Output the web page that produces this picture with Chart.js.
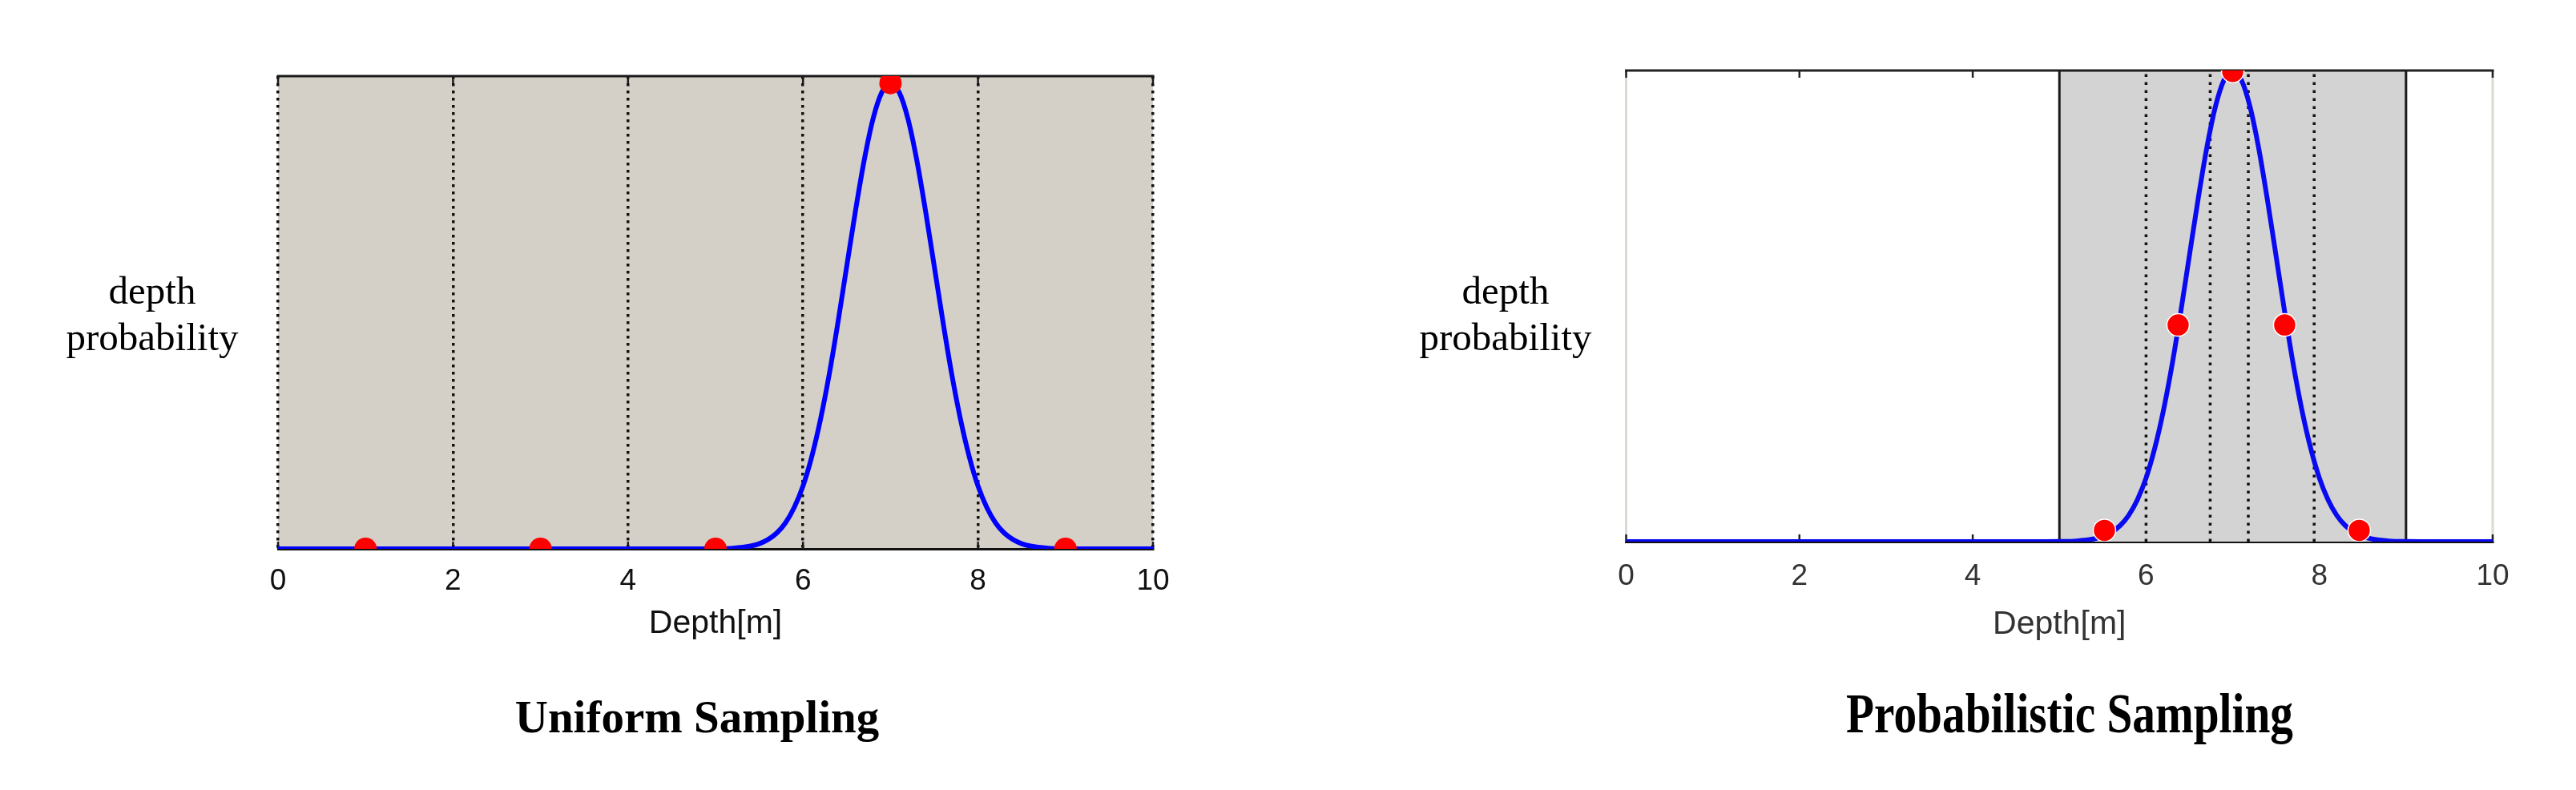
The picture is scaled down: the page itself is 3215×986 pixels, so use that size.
<!DOCTYPE html>
<html><head><meta charset="utf-8">
<script src="https://cdn.jsdelivr.net/npm/chart.js@4.4.1/dist/chart.umd.min.js"></script>
<style>
html,body{margin:0;padding:0;background:#fff;}
body{width:3215px;height:986px;position:relative;overflow:hidden;}
.wrap{position:absolute;top:0;height:986px;}
.ylab{position:absolute;font-family:"Liberation Serif","Times New Roman",serif;font-size:49px;line-height:58px;text-align:center;color:#000;width:300px;}
.cap{position:absolute;font-family:"Liberation Serif","Times New Roman",serif;font-weight:bold;color:#000;white-space:nowrap;transform-origin:0 0;}
</style></head>
<body>
<div class="wrap" style="left:0;width:1600px"><canvas id="c1" width="1600" height="986"></canvas></div>
<div class="wrap" style="left:1600px;width:1615px"><canvas id="c2" width="1615" height="986"></canvas></div>
<div class="ylab" style="left:40px;top:334px">depth<br>probability</div>
<div class="ylab" style="left:1729px;top:334px">depth<br>probability</div>
<div class="cap" id="cap1" style="font-size:57px;line-height:57px;top:866px">Uniform Sampling</div>
<div class="cap" id="cap2" style="font-size:70px;line-height:70px;top:856px">Probabilistic Sampling</div>
<script>
// ---- data ----
const xTicks = [0, 2, 4, 6, 8, 10];
const depthGrid = [0, 4.4, 4.8, 5.0, 5.2, 5.4, 5.5, 5.6, 5.7, 5.8, 5.9, 6.0, 6.1, 6.2, 6.3, 6.4, 6.5, 6.6, 6.7, 6.8, 6.9, 7.0,
  7.1, 7.2, 7.3, 7.4, 7.5, 7.6, 7.7, 7.8, 7.9, 8.0, 8.1, 8.2, 8.3, 8.4, 8.5, 8.6, 8.8, 9.0, 9.2, 9.6, 10];
const probability = [0, 0, 0.0001, 0.0003, 0.0015, 0.006, 0.011, 0.02, 0.034, 0.056, 0.089, 0.135, 0.198, 0.278, 0.375, 0.487, 0.607, 0.726, 0.835, 0.923, 0.98, 1.0,
  0.98, 0.923, 0.835, 0.726, 0.607, 0.487, 0.375, 0.278, 0.198, 0.135, 0.089, 0.056, 0.034, 0.02, 0.011, 0.006, 0.0015, 0.0003, 0.0001, 0, 0];
const uniformX = [1, 3, 5, 7, 9];
const uniformY = [0, 0, 0, 1, 0];
const probX = [5.52, 6.37, 7.0, 7.6, 8.46];
const probY = [0.024, 0.46, 0.998, 0.46, 0.024];
const probBounds = [6.0, 6.74, 7.18, 7.94];
const boxRange = [5, 9];
const axisTitle = 'Depth[m]';

const pts = (xs, ys) => xs.map((x, i) => ({x: x, y: ys[i]}));

const frame = {
  id: 'frame',
  beforeDraw(chart, args, o) {
    const {ctx, chartArea: a} = chart;
    if (o.bg) { ctx.save(); ctx.fillStyle = o.bg; ctx.fillRect(a.left, a.top, a.right - a.left, a.bottom - a.top); ctx.restore(); }
  },
  beforeDatasetsDraw(chart, args, o) {
    const {ctx, chartArea: a} = chart;
    const x = chart.scales.x;
    ctx.save();
    if (o.side) {
      ctx.strokeStyle = o.side; ctx.lineWidth = 3; ctx.beginPath();
      ctx.moveTo(a.left, a.top); ctx.lineTo(a.left, a.bottom);
      ctx.moveTo(a.right, a.top); ctx.lineTo(a.right, a.bottom); ctx.stroke();
    }
    ctx.strokeStyle = o.top; ctx.lineWidth = 3; ctx.beginPath();
    ctx.moveTo(a.left - 1.5, a.top); ctx.lineTo(a.right + 1.5, a.top); ctx.stroke();
    ctx.lineWidth = 2.5; ctx.strokeStyle = o.top;
    x.ticks.forEach(t => {
      const px = x.getPixelForValue(t.value);
      ctx.beginPath();
      ctx.moveTo(px, a.top); ctx.lineTo(px, a.top + 9);
      ctx.moveTo(px, a.bottom); ctx.lineTo(px, a.bottom - 9);
      ctx.stroke();
    });
    ctx.restore();
  }
};

function xScale(o) {
  return {
    type: 'linear', min: 0, max: 10,
    afterBuildTicks: s => { s.ticks = xTicks.map(v => ({value: v})); },
    afterFit: s => { s.height = o.H; },
    ticks: {font: {family: 'Liberation Sans', size: 37}, color: o.txt, padding: o.tickPad, maxRotation: 0, autoSkip: false, callback: v => String(v)},
    grid: {display: o.grid, color: '#111', lineWidth: 3.5, drawTicks: false},
    border: {display: true, color: '#111', width: 3, dash: [3.5, 5.5]},
    title: {display: true, text: axisTitle, font: {family: 'Liberation Sans', size: 41}, color: o.txt, padding: {top: 0, bottom: o.titlePad}}
  };
}

const common = {
  responsive: false, animation: false, devicePixelRatio: 1,
  events: [],
};

// ---- left chart: uniform sampling ----
new Chart(document.getElementById('c1'), {
  type: 'scatter',
  data: {datasets: [
    {data: pts(uniformX, uniformY), showLine: false, pointRadius: 14, backgroundColor: '#ff0000', borderWidth: 0, order: 1},
    {data: pts(depthGrid, probability), showLine: true, borderColor: '#0000ff', borderWidth: 6, pointRadius: 0, cubicInterpolationMode: 'monotone', order: 2}
  ]},
  options: Object.assign({}, common, {
    layout: {padding: {left: 347, right: 161, top: 95, bottom: 986 - 685 - 120}},
    scales: {
      x: xScale({H: 120, tickPad: 19, txt: '#111', grid: true, titlePad: 2}),
      y: {display: false, min: 0, max: 1.015}
    },
    plugins: {legend: {display: false}, tooltip: {enabled: false}, frame: {bg: '#d4d0c8', top: '#1a1a1a'}}
  }),
  plugins: [frame]
});

// ---- right chart: probabilistic sampling ----
const yMax2 = 1.0;
const boxPts = [{x: boxRange[0], y: 0}, {x: boxRange[0], y: yMax2}, {x: boxRange[1], y: yMax2}, {x: boxRange[1], y: 0}];
const boundPts = [];
probBounds.forEach(b => { boundPts.push({x: b, y: 0}, {x: b, y: yMax2}, {x: b, y: null}); });

new Chart(document.getElementById('c2'), {
  type: 'scatter',
  data: {datasets: [
    {data: pts(probX, probY), showLine: false, pointRadius: 14, backgroundColor: '#ff0000', borderColor: '#ffffff', borderWidth: 1.5, order: 1},
    {data: pts(depthGrid, probability), showLine: true, borderColor: '#0a0af0', borderWidth: 6, pointRadius: 0, cubicInterpolationMode: 'monotone', order: 2},
    {data: boundPts, showLine: true, spanGaps: false, borderColor: '#111', borderWidth: 3.5, borderDash: [3.5, 6.5], pointRadius: 0, order: 3},
    {data: boxPts, showLine: true, fill: 'origin', backgroundColor: '#d3d3d3', borderColor: '#1a1a1a', borderWidth: 3, pointRadius: 0, tension: 0, order: 4}
  ]},
  options: Object.assign({}, common, {
    layout: {padding: {left: 429.5, right: 104, top: 88, bottom: 986 - 676 - 128}},
    scales: {
      x: xScale({H: 128, tickPad: 22, txt: '#333', grid: false, titlePad: 0}),
      y: {display: false, min: 0, max: yMax2}
    },
    plugins: {legend: {display: false}, tooltip: {enabled: false}, filler: {propagate: false}, frame: {top: '#222', side: '#dcd9d3'}}
  }),
  plugins: [frame]
});

// ---- captions centred under each chart ----
function place(id, cx, targetW) {
  const el = document.getElementById(id);
  const w = el.getBoundingClientRect().width;
  const s = targetW ? targetW / w : 1;
  if (targetW) el.style.transform = 'scaleX(' + s + ')';
  el.style.left = (cx - w * s / 2) + 'px';
}
place('cap1', 870, 0);
place('cap2', 2583, 558);
</script>
</body></html>
